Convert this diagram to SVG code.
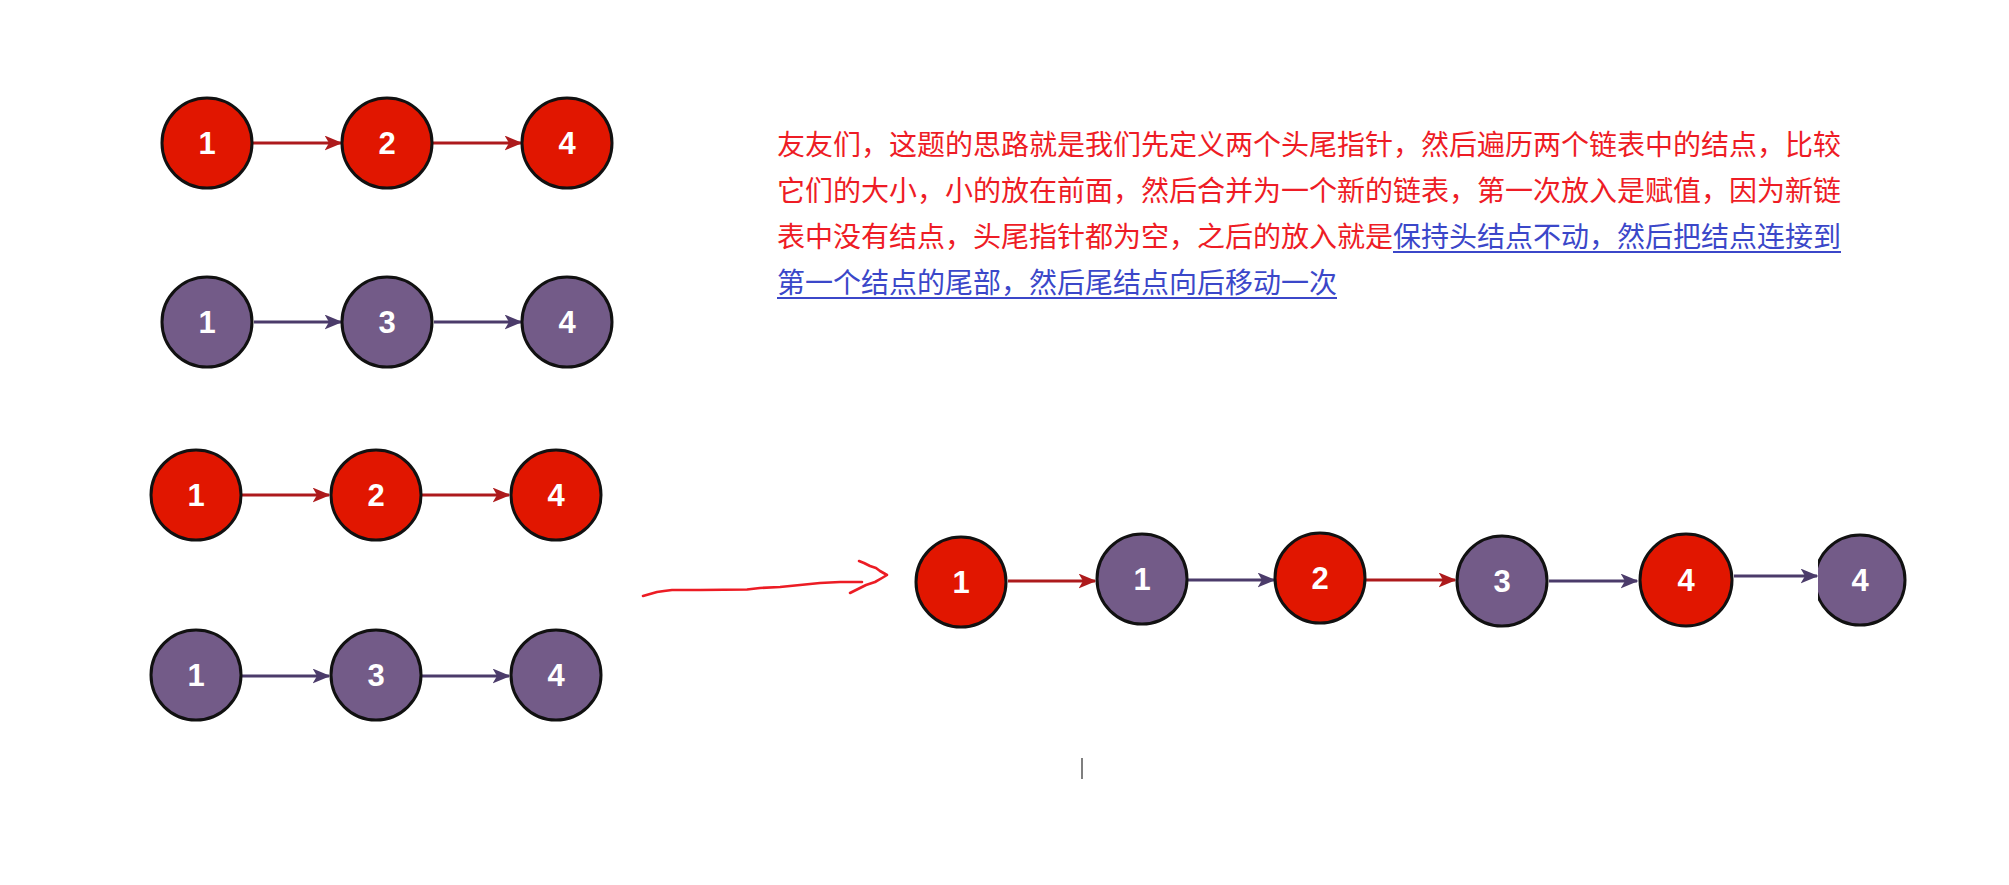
<svg xmlns="http://www.w3.org/2000/svg" width="2009" height="885" viewBox="0 0 2009 885">
<style>
.red{fill:#e11600;stroke:#111;stroke-width:3}
.pur{fill:#735b88;stroke:#111;stroke-width:3}
.lbl{fill:#fff;font-family:"Liberation Sans",Arial,sans-serif;font-weight:bold;font-size:31px;text-anchor:middle}
.ar{stroke:#ad1a1c;stroke-width:3;fill:none}
.ap{stroke:#4b3b6a;stroke-width:3;fill:none}
.t{font-family:"Noto Sans CJK SC","Liberation Sans",sans-serif;font-size:28px}
.tr{fill:#ee1c25}
.tb{fill:#3b47c9}
.ul{stroke:#3b47c9;stroke-width:2}
.hand{stroke:#ec1c24;stroke-width:2.6;fill:none;stroke-linecap:round;stroke-linejoin:round}
</style>
<defs>
<marker id="mr" viewBox="0 0 12 10" refX="11" refY="5" markerWidth="6" markerHeight="5" orient="auto" markerUnits="strokeWidth">
<path d="M0,0 L12,5 L0,10 L3,5 z" fill="#ad1a1c"/>
</marker>
<marker id="mp" viewBox="0 0 12 10" refX="11" refY="5" markerWidth="6" markerHeight="5" orient="auto" markerUnits="strokeWidth">
<path d="M0,0 L12,5 L0,10 L3,5 z" fill="#4b3b6a"/>
</marker>
<clipPath id="clip4"><rect x="1818" y="520" width="120" height="130"/></clipPath>
</defs>
<rect width="2009" height="885" fill="#fff"/>

<g id="connectors">
<line class="ar" x1="253" y1="143" x2="341" y2="143" marker-end="url(#mr)"/>
<line class="ar" x1="433" y1="143" x2="521" y2="143" marker-end="url(#mr)"/>
<line class="ap" x1="254" y1="322" x2="341" y2="322" marker-end="url(#mp)"/>
<line class="ap" x1="434" y1="322" x2="521" y2="322" marker-end="url(#mp)"/>
<line class="ar" x1="242" y1="495" x2="329" y2="495" marker-end="url(#mr)"/>
<line class="ar" x1="422" y1="495" x2="509" y2="495" marker-end="url(#mr)"/>
<line class="ap" x1="242" y1="676" x2="329" y2="676" marker-end="url(#mp)"/>
<line class="ap" x1="422" y1="676" x2="509" y2="676" marker-end="url(#mp)"/>
<line class="ar" x1="1008" y1="581" x2="1095" y2="581" marker-end="url(#mr)"/>
<line class="ap" x1="1188" y1="580" x2="1274" y2="580" marker-end="url(#mp)"/>
<line class="ar" x1="1366" y1="580" x2="1455" y2="580" marker-end="url(#mr)"/>
<line class="ap" x1="1549" y1="581" x2="1637" y2="581" marker-end="url(#mp)"/>
<line class="ap" x1="1734" y1="576" x2="1817" y2="576" marker-end="url(#mp)"/>
<path class="hand" d="M643,596 L650,594 L657,592 L664,591 L672,590 L700,590 L747,589.5 L760,588 L780,587 L800,585 L820,583 L840,582 L862,582"/>
<path class="hand" d="M859,561 L864,563 L870,566 L876,568 L880,571 L887,575 L882,578 L875,582 L866,585 L858,589 L850,593"/>
</g>

<g id="a1"><circle class="red" cx="207" cy="143" r="45"/><text class="lbl" x="207" y="154">1</text></g>
<g id="a2"><circle class="red" cx="387" cy="143" r="45"/><text class="lbl" x="387" y="154">2</text></g>
<g id="a4"><circle class="red" cx="567" cy="143" r="45"/><text class="lbl" x="567" y="154">4</text></g>

<g id="b1"><circle class="pur" cx="207" cy="322" r="45"/><text class="lbl" x="207" y="333">1</text></g>
<g id="b3"><circle class="pur" cx="387" cy="322" r="45"/><text class="lbl" x="387" y="333">3</text></g>
<g id="b4"><circle class="pur" cx="567" cy="322" r="45"/><text class="lbl" x="567" y="333">4</text></g>

<g id="c1"><circle class="red" cx="196" cy="495" r="45"/><text class="lbl" x="196" y="506">1</text></g>
<g id="c2"><circle class="red" cx="376" cy="495" r="45"/><text class="lbl" x="376" y="506">2</text></g>
<g id="c4"><circle class="red" cx="556" cy="495" r="45"/><text class="lbl" x="556" y="506">4</text></g>

<g id="d1"><circle class="pur" cx="196" cy="675" r="45"/><text class="lbl" x="196" y="686">1</text></g>
<g id="d3"><circle class="pur" cx="376" cy="675" r="45"/><text class="lbl" x="376" y="686">3</text></g>
<g id="d4"><circle class="pur" cx="556" cy="675" r="45"/><text class="lbl" x="556" y="686">4</text></g>

<g id="m1"><circle class="red" cx="961" cy="582" r="45"/><text class="lbl" x="961" y="593">1</text></g>
<g id="m2"><circle class="pur" cx="1142" cy="579" r="45"/><text class="lbl" x="1142" y="590">1</text></g>
<g id="m3"><circle class="red" cx="1320" cy="578" r="45"/><text class="lbl" x="1320" y="589">2</text></g>
<g id="m4"><circle class="pur" cx="1502" cy="581" r="45"/><text class="lbl" x="1502" y="592">3</text></g>
<g id="m5"><circle class="red" cx="1686" cy="580" r="46"/><text class="lbl" x="1686" y="591">4</text></g>
<g id="m6"><circle class="pur" cx="1860" cy="580" r="45" clip-path="url(#clip4)"/><text class="lbl" x="1860" y="591">4</text></g>

<g id="note">
<text class="t tr" x="777" y="155">友友们，这题的思路就是我们先定义两个头尾指针，然后遍历两个链表中的结点，比较</text>
<text class="t tr" x="777" y="201">它们的大小，小的放在前面，然后合并为一个新的链表，第一次放入是赋值，因为新链</text>
<text class="t tr" x="777" y="247">表中没有结点，头尾指针都为空，之后的放入就是</text>
<text class="t tb" x="1393" y="247">保持头结点不动，然后把结点连接到</text>
<line class="ul" x1="1393" y1="252" x2="1841" y2="252"/>
<text class="t tb" x="777" y="293">第一个结点的尾部，然后尾结点向后移动一次</text>
<line class="ul" x1="777" y1="298" x2="1337" y2="298"/>
</g>

<line x1="1082" y1="758" x2="1082" y2="779" stroke="#555" stroke-width="1.5"/>
</svg>
